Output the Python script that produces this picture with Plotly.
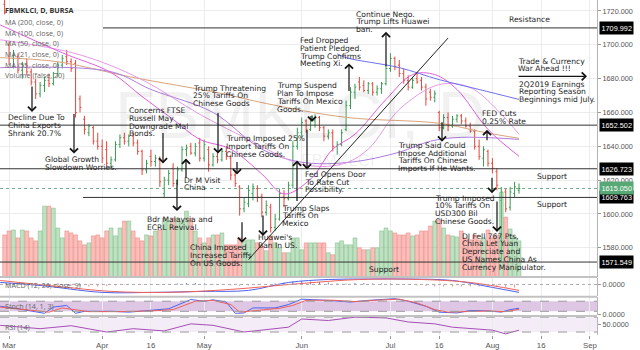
import pandas as pd
import plotly.graph_objects as go

# ---------------- data ----------------
dates = pd.bdate_range("2019-02-28", "2019-08-09")

opens = [1724, 1700, 1692, 1693, 1685, 1688, 1684, 1678, 1671, 1676, 1679, 1677, 1683, 1688, 1693, 1690,
         1689, 1668, 1656, 1648, 1651, 1643, 1640, 1638, 1630, 1632, 1641, 1645, 1643, 1646, 1642, 1637,
         1626, 1634, 1631, 1632, 1612, 1620, 1627, 1618, 1626, 1638, 1640, 1636, 1642, 1633, 1638, 1629,
         1634, 1632, 1637, 1633, 1623, 1616, 1603, 1606, 1612, 1615, 1610, 1601, 1604, 1592, 1597, 1610,
         1609, 1617, 1640, 1648, 1655, 1650, 1655, 1657, 1651, 1646, 1648, 1640, 1641, 1650, 1664, 1672,
         1678, 1676, 1673, 1677, 1672, 1674, 1677, 1686, 1692, 1688, 1683, 1679, 1675, 1680, 1679, 1675,
         1672, 1669, 1660, 1651, 1657, 1652, 1656, 1658, 1655, 1652, 1649, 1640, 1633, 1637, 1630, 1625,
         1608, 1613, 1604, 1612, 1614]
highs = [1727, 1702, 1697, 1695, 1690, 1692, 1686, 1680, 1678, 1681, 1683, 1684, 1690, 1694, 1697, 1692,
         1691, 1670, 1658, 1653, 1652, 1648, 1644, 1643, 1634, 1643, 1647, 1648, 1647, 1648, 1644, 1638,
         1632, 1638, 1635, 1634, 1622, 1626, 1630, 1628, 1640, 1641, 1642, 1642, 1645, 1644, 1640, 1636,
         1637, 1639, 1640, 1635, 1626, 1617, 1610, 1617, 1618, 1617, 1612, 1608, 1606, 1600, 1615, 1614,
         1619, 1643, 1651, 1657, 1656, 1658, 1659, 1658, 1652, 1650, 1650, 1643, 1650, 1667, 1675, 1677,
         1681, 1679, 1678, 1678, 1676, 1678, 1688, 1695, 1693, 1691, 1686, 1682, 1681, 1684, 1681, 1677,
         1674, 1673, 1661, 1659, 1660, 1658, 1659, 1659, 1657, 1654, 1650, 1644, 1640, 1638, 1633, 1627,
         1616, 1615, 1616, 1619, 1618]
lows = [1718, 1688, 1686, 1683, 1680, 1682, 1676, 1668, 1669, 1672, 1675, 1676, 1681, 1686, 1688, 1684,
        1657, 1660, 1647, 1646, 1641, 1638, 1630, 1628, 1627, 1631, 1639, 1641, 1640, 1640, 1635, 1623,
        1624, 1628, 1628, 1616, 1610, 1617, 1616, 1617, 1625, 1634, 1635, 1634, 1631, 1631, 1625, 1628,
        1630, 1631, 1632, 1620, 1616, 1599, 1601, 1604, 1608, 1607, 1598, 1599, 1589, 1590, 1596, 1604,
        1608, 1615, 1638, 1645, 1648, 1649, 1651, 1649, 1643, 1644, 1637, 1635, 1640, 1649, 1662, 1668,
        1673, 1672, 1671, 1670, 1670, 1671, 1676, 1684, 1685, 1681, 1677, 1673, 1674, 1677, 1673, 1664,
        1667, 1666, 1649, 1650, 1649, 1651, 1654, 1653, 1651, 1648, 1638, 1632, 1628, 1628, 1624, 1614,
        1571.549, 1601, 1602, 1610, 1612]
closes = [1719, 1692, 1694, 1685, 1688, 1684, 1678, 1671, 1676, 1679, 1677, 1683, 1688, 1692, 1690, 1686,
          1660, 1663, 1650, 1652, 1643, 1640, 1633, 1630, 1632, 1641, 1645, 1643, 1646, 1642, 1637, 1626,
          1630, 1631, 1633, 1619, 1620, 1624, 1618, 1626, 1638, 1639, 1636, 1640, 1633, 1641, 1629, 1634,
          1632, 1637, 1634, 1623, 1618, 1603, 1607, 1614, 1616, 1610, 1601, 1605, 1592, 1597, 1612, 1609,
          1617, 1640, 1648, 1654, 1650, 1656, 1657, 1651, 1646, 1648, 1640, 1641, 1648, 1664, 1672, 1675,
          1675, 1673, 1677, 1672, 1674, 1677, 1686, 1692, 1687, 1683, 1679, 1675, 1679, 1678, 1675, 1668,
          1669, 1671, 1651, 1657, 1652, 1656, 1658, 1655, 1652, 1649, 1640, 1634, 1638, 1630, 1627, 1617,
          1613, 1603, 1613, 1616, 1615.05]
volume_m = [1260, 1380, 1410, 1170, 1410, 1380, 1170, 1080, 1380, 2130, 2130, 2070, 1470, 1170, 1380, 1320,
            1260, 1080, 960, 1020, 1230, 1260, 1170, 1380, 1470, 1230, 1470, 1680, 1680, 1380, 1170, 1080,
            1260, 1230, 1380, 1410, 1770, 1680, 1770, 1770, 1680, 1980, 1770, 1380, 1170, 1020, 1170, 1260,
            1260, 1320, 960, 960, 960, 1170, 1080, 1110, 1110, 1020, 930, 780, 1230, 1020, 870, 720,
            720, 1170, 1170, 810, 1020, 1020, 1020, 1020, 1020, 720, 660, 1020, 1080, 960, 960, 1170,
            870, 810, 810, 870, 870, 1380, 1470, 1380, 1320, 1260, 1260, 1320, 1230, 1260, 1380, 1380,
            1530, 1680, 1710, 1470, 1260, 1230, 1200, 1380, 1170, 1110, 1260, 1110, 1170, 1410, 1170, 1260,
            2550, 1800, 1440, 1200, 1080]

# moving averages (trading-day offset from 1 Mar 2019, value)
ma_tan_day = [-2, 11, 27, 48, 58, 76, 97, 107, 115]
ma_tan = [1692.4, 1690.0, 1681.2, 1671.2, 1665.3, 1657.1, 1653.6, 1648.3, 1644.7]
ma_blue_day = [74, 76, 88, 97, 106, 115]
ma_blue = [1694.7, 1692.4, 1686.5, 1679.4, 1673.6, 1667.7]
ma_pink1_day = [-2, 12, 23, 30, 37, 43, 50, 57, 62, 68, 73, 78, 85, 91, 96, 101, 108, 115]
ma_pink1 = [1711.8, 1695.3, 1683.6, 1669.4, 1655.9, 1644.1, 1638.3, 1623.6, 1611.8, 1620.6, 1638.3,
            1647.1, 1667.7, 1682.4, 1682.4, 1673.6, 1650.0, 1634.1]
ma_pink2_day = [-2, 16, 30, 43, 54, 66, 75, 81, 88, 97, 104, 110, 115]
ma_pink2 = [1703.0, 1694.1, 1679.4, 1658.9, 1644.1, 1629.4, 1629.4, 1638.3, 1661.8, 1676.5, 1674.7,
            1661.8, 1647.1]
ma_violet_day = [-2, 23, 32, 46, 57, 66, 77, 88, 95, 102, 115]
ma_violet = [1686.5, 1684.1, 1673.6, 1660.0, 1638.3, 1630.6, 1630.6, 1636.5, 1643.0, 1645.3, 1644.1]

macd_day = [-2, 7, 21, 32, 44, 54, 63, 72, 81, 90, 100, 109, 115]
macd = [2, -1, -8, -8, -7, -6, 2, 5, 5.5, 5.5, 4, -3, -8]
signal_day = [-2, 11, 23, 36, 50, 66, 79, 93, 104, 115]
signal = [4, -2, -7, -8, -5, 1, 5, 5, 2, -6]
hist_day = list(range(0, 116, 2))
hist = [-1, -1, -1.5, -1.5, -1, -1, -0.5, -1, -1.5, -2, -2, -1.5, -1, -0.5, -0.5, -0.5, -0.5, 0.5,
        0.5, 1, 1.5, 1.5, 1, 0.5, -0.5, -1, -1.5, -1, -0.5, 0.5, 1, 2, 3, 3.5, 3, 2.5, 2, 1, 1, 1.5,
        1.5, 1, 1, 1, 0.5, -0.5, -1, -1.5, -2, -2, -2, -2, -2, -2, -2, -2.5, -3, -3]

stoch_k_day = [-2, 2, 8, 10, 13, 15, 17, 23, 27, 32, 36, 41, 44, 46, 49, 51, 53, 55, 60, 63, 66, 72,
               77, 81, 87, 90, 94, 97, 101, 104, 108, 111, 113, 115]
stoch_k = [50, 35, 8, 45, 55, 8, 20, 20, 15, 25, 35, 90, 80, 88, 75, 8, 10, 40, 40, 60, 92, 85,
           75, 85, 95, 80, 50, 15, 10, 25, 22, 15, 30, 38]
stoch_d_day = [-2, 3, 9, 12, 15, 18, 25, 32, 37, 42, 46, 50, 52, 56, 61, 64, 67, 73, 78, 83, 88, 92,
               96, 99, 103, 108, 112, 115]
stoch_d = [45, 30, 15, 40, 30, 18, 18, 22, 30, 80, 85, 60, 15, 25, 38, 55, 85, 86, 78, 86, 92, 70,
           30, 15, 20, 22, 18, 32]

rsi_day = [-2, 7, 14, 22, 28, 35, 41, 46, 53, 63, 66, 72, 78, 85, 90, 96, 100, 104, 109, 112, 115]
rsi = [48, 39, 47, 30, 39, 33, 52, 48, 30, 43, 65, 61, 70, 68, 57, 52, 43, 39, 35, 25, 35]

levels = [1709.992, 1652.502, 1626.723, 1609.763, 1571.549]
last_price = 1615.05

tick_dates = ["2019-03-01", "2019-04-01", "2019-04-16", "2019-05-02", "2019-06-03",
              "2019-07-01", "2019-07-16", "2019-08-01", "2019-08-16", "2019-09-02"]
tick_text = ["Mar", "Apr", "16", "May", "Jun", "Jul", "16", "Aug", "16", "Sep"]

# ---------------- helpers ----------------
PW, PH = 597.0, 338.0


def px(x):
    return x / PW


def py(y):
    return 1 - y / PH


def bday(d):
    return (pd.Timestamp("2019-03-01") + pd.offsets.BDay(d)).strftime("%Y-%m-%d")


GREEN = "#389b52"
RED = "#e4463a"

fig = go.Figure()

# volume (overlay axis)
vcol = ["rgba(120,195,128,0.48)" if c >= o else "rgba(246,120,112,0.48)" for o, c in zip(opens, closes)]
vline = ["rgba(90,165,100,0.7)" if c >= o else "rgba(225,100,90,0.7)" for o, c in zip(opens, closes)]
fig.add_trace(go.Bar(x=dates, y=volume_m, marker=dict(color=vcol, line=dict(color=vline, width=0.5)),
                     xaxis="x", yaxis="y5", hoverinfo="skip"))

# moving averages
for dd, vv, col in [(ma_tan_day, ma_tan, "#d9a47a"), (ma_violet_day, ma_violet, "#b07ee0"),
                    (ma_pink2_day, ma_pink2, "#e69ae6"), (ma_pink1_day, ma_pink1, "#df5fdc"),
                    (ma_blue_day, ma_blue, "#6f6ff0")]:
    fig.add_trace(go.Scatter(x=[bday(d) for d in dd], y=vv, mode="lines",
                             line=dict(color=col, width=1, shape="spline"),
                             xaxis="x", yaxis="y", hoverinfo="skip"))

# price bars
fig.add_trace(go.Ohlc(x=dates, open=opens, high=highs, low=lows, close=closes,
                      increasing=dict(line=dict(color=GREEN, width=1)),
                      decreasing=dict(line=dict(color=RED, width=1)),
                      tickwidth=0.3, xaxis="x", yaxis="y", hoverinfo="skip"))

# MACD
hcol = ["rgba(70,90,210,0.8)" if h >= 0 else "rgba(240,110,105,0.8)" for h in hist]
fig.add_trace(go.Bar(x=[bday(d) for d in hist_day], y=hist, width=20000000,
                     marker=dict(color=hcol, line=dict(width=0)), xaxis="x", yaxis="y2", hoverinfo="skip"))
fig.add_trace(go.Scatter(x=[bday(d) for d in macd_day], y=macd, mode="lines",
                         line=dict(color="#4a62f0", width=1, shape="spline"), xaxis="x", yaxis="y2"))
fig.add_trace(go.Scatter(x=[bday(d) for d in signal_day], y=signal, mode="lines",
                         line=dict(color="#f0605a", width=1, shape="spline"), xaxis="x", yaxis="y2"))
# Stoch
fig.add_trace(go.Scatter(x=[bday(d) for d in stoch_k_day], y=stoch_k, mode="lines",
                         line=dict(color="#4a62f0", width=1), xaxis="x", yaxis="y3"))
fig.add_trace(go.Scatter(x=[bday(d) for d in stoch_d_day], y=stoch_d, mode="lines",
                         line=dict(color="#f0605a", width=1), xaxis="x", yaxis="y3"))
# RSI
fig.add_trace(go.Scatter(x=[bday(d) for d in rsi_day], y=rsi, mode="lines",
                         line=dict(color="#a54fb5", width=1), xaxis="x", yaxis="y4"))

shapes = []
# horizontal levels
lvl_start = {1709.992: 103, 1652.502: 0, 1626.723: 0, 1609.763: 83, 1571.549: 0}
for lv in levels:
    shapes.append(dict(type="line", xref="paper", yref="y", x0=px(lvl_start[lv]), x1=1, y0=lv, y1=lv,
                       line=dict(color="#333333", width=1)))
shapes.append(dict(type="line", xref="paper", yref="y", x0=0, x1=1, y0=last_price, y1=last_price,
                   line=dict(color="rgba(90,150,110,0.8)", width=1, dash="dot")))
# trend line
shapes.append(dict(type="line", xref="x", yref="y", x0=bday(54), y0=1573, x1=bday(99), y1=1704,
                   line=dict(color="#222222", width=1)))
# lower panes
shapes.append(dict(type="line", xref="paper", yref="y2", x0=0, x1=1, y0=0, y1=0,
                   line=dict(color="#aaaaaa", width=1, dash="dot")))
shapes.append(dict(type="rect", xref="paper", yref="y3", x0=0, x1=1, y0=20, y1=80,
                   fillcolor="rgba(150,80,175,0.32)", line=dict(width=0), layer="below"))
for v in (20, 80):
    shapes.append(dict(type="line", xref="paper", yref="y3", x0=0, x1=1, y0=v, y1=v,
                       line=dict(color="#999999", width=1, dash="dash")))
shapes.append(dict(type="rect", xref="paper", yref="y4", x0=0, x1=1, y0=30, y1=70,
                   fillcolor="rgba(150,80,175,0.10)", line=dict(width=0), layer="below"))
for v in (30, 70):
    shapes.append(dict(type="line", xref="paper", yref="y4", x0=0, x1=1, y0=v, y1=v,
                       line=dict(color="#999999", width=1, dash="dash")))
for ys in (279.6, 299.3, 318.9):
    shapes.append(dict(type="line", xref="paper", yref="paper", x0=0, x1=1, y0=py(ys), y1=py(ys),
                       line=dict(color="#c2c2c2", width=2)))

ann = []
# watermark
ann.append(dict(x=px(300), y=py(116), xref="paper", yref="paper", text="FBMKLCI, D", showarrow=False,
                font=dict(family="Liberation Sans", size=66, color="rgba(0,0,0,0.055)")))
ann.append(dict(x=px(338), y=py(162), xref="paper", yref="paper", text="FBMKLCI", showarrow=False,
                font=dict(family="Liberation Sans", size=17, color="rgba(0,0,0,0.07)")))

TXT = dict(family="DejaVu Sans", size=7.6, color="#1e1e1e")
blocks = [
    (6, 119, ["Decline Due To", "China Exports", "Shrank 20.7%"]),
    (43, 160.7, ["Global Growth", "Slowdown Worries."]),
    (127, 111.7, ["Concerns FTSE", "Russell May", "Downgrade Mal", "Bonds."]),
    (182, 181.7, ["Dr M Visit", "China"]),
    (145, 221.7, ["Bdr Malaysia and", "ECRL Revival."]),
    (191, 89, ["Trump Threatening", "25% Tariffs On", "Chinese Goods"]),
    (224, 140, ["Trump Imposed 25%", "Import Tariffs On", "Chinese Goods."]),
    (275, 86.7, ["Trump Suspend", "Plan To Impose", "Tariffs On Mexico", "Goods."]),
    (298, 41, ["Fed Dropped", "Patient Pledged.", "Trump Confirms", "Meeting Xi."]),
    (354, 14.3, ["Continue Nego.", "Trump Lifts Huawei", "ban."]),
    (280, 210, ["Trump Slaps", "Tariffs On", "Mexico"]),
    (303, 176, ["Fed Opens Door", "To Rate Cut", "Possibility."]),
    (256, 240, ["Huawei's", "Ban In US."]),
    (188, 250, ["China Imposed", "Increased Tariffs", "On US Goods."]),
    (433, 200, ["Trump Imposed", "10% Tariffs On", "USD300 Bil", "Chinese Goods."]),
    (460, 238.3, ["DJ Fell 767 Pts,", "China Let Yuan", "Depreciate and", "US Names China As",
                  "Currency Manipulator."]),
    (396, 146.7, ["Trump Said Could", "Impose Additional", "Tariffs On Chinese", "Imports If He Wants."]),
    (480, 115, ["FED Cuts", "0.25% Rate"]),
    (516, 61.7, ["Trade & Currency", "War Ahead !!!"]),
    (517, 85, ["2Q2019 Earnings", "Reporting Season", "Beginnings mid July."]),
    (507, 20, ["Resistance"]),
    (535, 178.3, ["Support"]),
    (535, 206, ["Support"]),
    (367, 271.7, ["Support"]),
]
for x0, y0, lines in blocks:
    for k, line in enumerate(lines):
        ann.append(dict(x=px(x0), y=py(y0 + k * 7.8), xref="paper", yref="paper", text=line,
                        showarrow=False, xanchor="left", yanchor="middle", font=TXT))

arrows = [
    (32, 86, 32, 113), (74, 114, 74, 155), (163, 133, 163, 165), (186, 181, 186, 160),
    (177, 180, 177, 213), (218, 113, 218, 155), (237, 162, 237, 176), (312, 115, 312, 123),
    (349, 93, 349, 64), (386, 68, 386, 32), (297, 204, 297, 162), (307, 130, 307, 171),
    (263, 216, 263, 238), (242, 223, 242, 245), (492, 178, 492, 195), (497, 202, 497, 234),
    (442, 122, 442, 143), (487, 143, 487, 131), (517, 77, 587, 77),
]
for tx, ty, hx, hy in arrows:
    ann.append(dict(x=px(hx), y=py(hy), xref="paper", yref="paper", text="", showarrow=True,
                    ax=tx - hx, ay=ty - hy, arrowhead=4, arrowsize=1.3, arrowwidth=1.2,
                    arrowcolor="#111111", standoff=0))

# legend texts
LEG = dict(family="Open Sans", size=7.2, color="#666666")
ann.append(dict(x=px(3), y=py(10), xref="paper", yref="paper", text="<b>FBMKLCI, D, BURSA</b>",
                showarrow=False, xanchor="left", yanchor="middle",
                font=dict(family="Open Sans", size=7.2, color="#333333")))
for k, t in enumerate(["MA (200, close, 0)", "MA (100, close, 0)", "MA (50, close, 0)",
                       "MA (21, close, 0)", "MA (55, close, 0)", "Volume (false, 20)"]):
    ann.append(dict(x=px(3), y=py(22 + k * 10.8), xref="paper", yref="paper", text=t, showarrow=False,
                    xanchor="left", yanchor="middle", font=LEG))
for t, yy in [("MACD (12, 26, close, 9)", 288), ("Stoch (14, 1, 3)", 309), ("RSI (14)", 330)]:
    ann.append(dict(x=px(3), y=py(yy), xref="paper", yref="paper", text=t, showarrow=False,
                    xanchor="left", yanchor="middle", font=LEG))

# price labels on axis
for lv in levels:
    ann.append(dict(x=1.003, y=lv, xref="paper", yref="y", text=f"{lv:.3f}", showarrow=False,
                    xanchor="left", yanchor="middle", bgcolor="#000000", borderpad=1.5,
                    font=dict(family="Liberation Sans", size=7.3, color="#ffffff")))
ann.append(dict(x=1.003, y=last_price, xref="paper", yref="y", text=f"{last_price:.3f}", showarrow=False,
                xanchor="left", yanchor="middle", bgcolor="#56a874", borderpad=1.5,
                font=dict(family="Liberation Sans", size=7.3, color="#ffffff")))

AX_FONT = dict(family="Liberation Sans", size=7.3, color="#555555")
ytick = dict(side="right", anchor="x", showline=True, linecolor="#b5b5b5", linewidth=1,
             ticks="outside", ticklen=3, tickcolor="#999999", tickfont=AX_FONT, zeroline=False)

main_ticks = [1580, 1600, 1620, 1640, 1660, 1680, 1700, 1720]

fig.update_layout(
    width=640, height=350, margin=dict(l=0, r=43, t=0, b=12),
    plot_bgcolor="white", paper_bgcolor="white", showlegend=False,
    bargap=0.12, barmode="overlay",
    xaxis=dict(type="date", range=["2019-02-26 23:00", "2019-09-03 14:00"],
               rangebreaks=[dict(bounds=["sat", "mon"])], anchor="y4", domain=[0, 1],
               tickvals=tick_dates, ticktext=tick_text, showgrid=True, gridcolor="#ececec",
               ticks="outside", ticklen=3, tickcolor="#999999",
               tickfont=dict(family="Liberation Sans", size=7.8, color="#555555"),
               rangeslider=dict(visible=False), showline=False, zeroline=False),
    yaxis=dict(domain=[1 - 279 / PH, 1], range=[1563.0, 1726.5], tickvals=main_ticks,
               ticktext=[f"{v:.3f}" for v in main_ticks], showgrid=True, gridcolor="#ececec", **ytick),
    yaxis2=dict(domain=[1 - 298.5 / PH, 1 - 280.5 / PH], range=[-11.5, 6.5], tickvals=[0],
                ticktext=["0.0000"], showgrid=False, **ytick),
    yaxis3=dict(domain=[1 - 318 / PH, 1 - 300 / PH], range=[-3, 103], tickvals=[0],
                ticktext=["0.0000"], showgrid=False, **ytick),
    yaxis4=dict(domain=[0, 1 - 319.5 / PH], range=[22, 71.33], tickvals=[50],
                ticktext=["50.0000"], showgrid=False, **ytick),
    yaxis5=dict(overlaying="y", range=[0, 8370], visible=False),
    shapes=shapes, annotations=ann,
)

fig.write_html("out.html")
